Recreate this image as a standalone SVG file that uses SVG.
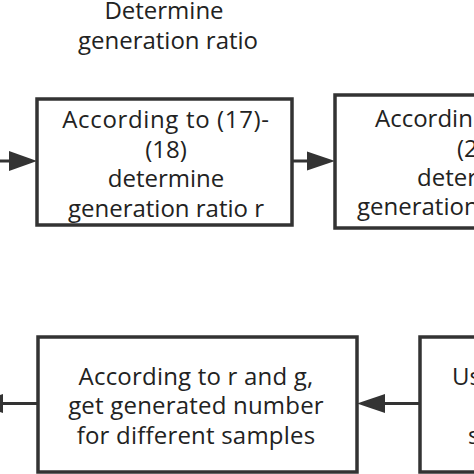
<svg xmlns="http://www.w3.org/2000/svg" width="474" height="474" viewBox="0 0 474 474">
<style>
.box{fill:#fff;stroke:#333;stroke-width:3.5}
.line{stroke:#333;stroke-width:3;fill:none}
.head{fill:#333;stroke:none}
text{font-family:"Open Sans","Noto Sans",sans-serif;font-size:24px;fill:#222}
.c{text-anchor:middle}
.w{letter-spacing:0.2px}
</style>
<rect width="474" height="474" fill="#fff"/>
<g id="title">
<text class="c" x="164" y="19">Determine</text>
<text class="c" x="168" y="49">generation ratio</text>
</g>
<g id="connectors">
<line class="line" x1="0" y1="161" x2="12" y2="161"/>
<polygon class="head" points="9,151 37,161 9,171"/>
<line class="line" x1="292" y1="161" x2="310" y2="161"/>
<polygon class="head" points="307,151.5 335,161 307,170.5"/>
<line class="line" x1="420" y1="403.5" x2="382" y2="403.5"/>
<polygon class="head" points="385,394 357,403.5 385,413"/>
<line class="line" x1="38" y1="403.5" x2="0" y2="403.5"/>
<polygon class="head" points="3,394 -25,403.5 3,413"/>
</g>
<g id="node1">
<rect class="box" x="37" y="99" width="255" height="126"/>
<text class="c" x="166" y="128" style="letter-spacing:0.65px">According to (17)-</text>
<text class="c" x="166" y="157.5">(18)</text>
<text class="c" x="166" y="187">determine</text>
<text class="c" x="166" y="216.5">generation ratio r</text>
</g>
<g id="node2">
<rect class="box" x="335" y="95" width="300" height="133"/>
<text x="375" y="127">Accordin</text>
<text x="457" y="156.5">(2</text>
<text x="417" y="185.5">deter</text>
<text x="357" y="214.5">generation</text>
</g>
<g id="node3">
<rect class="box" x="38" y="337" width="319" height="135"/>
<text class="c w" x="196" y="385">According to r and g,</text>
<text class="c w" x="196" y="414">get generated number</text>
<text class="c w" x="196" y="443.5">for different samples</text>
</g>
<g id="node4">
<rect class="box" x="420" y="337" width="300" height="135"/>
<text x="452" y="385">Us</text>
<text x="468" y="443.5">s</text>
</g>
</svg>
